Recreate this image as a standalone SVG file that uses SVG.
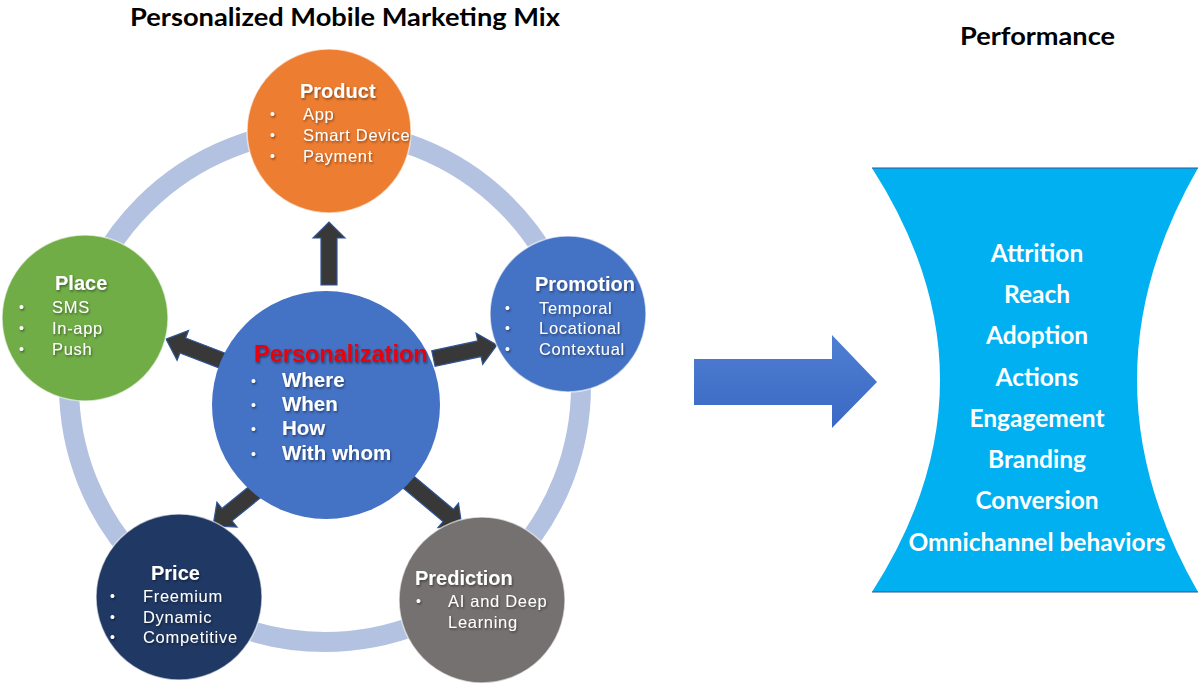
<svg xmlns="http://www.w3.org/2000/svg" width="1200" height="688" viewBox="0 0 1200 688">
<defs>
  <filter id="ts" x="-10%" y="-30%" width="130%" height="170%">
    <feDropShadow dx="1" dy="1.5" stdDeviation="1" flood-color="#000" flood-opacity="0.45"/>
  </filter>
  <linearGradient id="bigArrow" x1="0" y1="0" x2="0" y2="1">
    <stop offset="0" stop-color="#4f7fd2"/>
    <stop offset="1" stop-color="#3a68c4"/>
  </linearGradient>
</defs>
<style>
  .title{font-family:"Lato","Open Sans",sans-serif;font-weight:bold;font-size:25px;fill:#000}
  .perf{font-family:"Lato","Open Sans",sans-serif;font-weight:bold;font-size:24.5px;fill:#fff;text-anchor:middle}
  .nt{font-family:"Liberation Sans",Arial,sans-serif;font-weight:bold;font-size:20px;fill:#fff}
  .it{font-family:"Liberation Sans",Arial,sans-serif;font-size:16.5px;fill:#fff;letter-spacing:0.7px}
  .bl{font-family:"Liberation Sans",Arial,sans-serif;font-size:14px;fill:#fff}
  .ci{font-family:"Liberation Sans",Arial,sans-serif;font-weight:bold;font-size:20.5px;fill:#fff}
  .conn{fill:#383838;stroke:#2f5597;stroke-width:1.2;stroke-linejoin:miter}
  .node{stroke:#ffffff;stroke-width:1.5;stroke-opacity:0.6}
</style>

<text class="title" x="130" y="26" textLength="430" lengthAdjust="spacingAndGlyphs">Personalized Mobile Marketing Mix</text>
<text class="title" x="960" y="45" textLength="155" lengthAdjust="spacingAndGlyphs">Performance</text>

<!-- ring -->
<circle cx="325" cy="386" r="256" fill="none" stroke="#b4c2e2" stroke-width="20"/>

<g id="connectors">
  <polygon class="conn" points="321,285 321,238 313,238 329,222 345,238 337,238 337,285"/>
  <polygon class="conn" transform="translate(166,339) rotate(201)" points="0,0 -18,-16 -18,-8 -85,-8 -85,8 -18,8 -18,16"/>
  <polygon class="conn" transform="translate(497,345) rotate(-12)" points="0,0 -18,-16 -18,-8 -65,-8 -65,8 -18,8 -18,16"/>
  <polygon class="conn" transform="translate(213,526) rotate(141)" points="0,0 -18,-16 -18,-8 -68,-8 -68,8 -18,8 -18,16"/>
  <polygon class="conn" transform="translate(462,527) rotate(40)" points="0,0 -18,-16 -18,-8 -72,-8 -72,8 -18,8 -18,16"/>
  <polygon points="694,359 832,359 832,335 877,382 832,428 832,405 694,405" fill="url(#bigArrow)"/>
</g>

<g id="center">
  <circle cx="326" cy="405" r="114" fill="#4472c4"/>
  <text x="254" y="362" font-family="Liberation Sans,Arial,sans-serif" font-weight="bold" font-size="23.5" fill="#e8000b" filter="url(#ts)">Personalization</text>
  <g filter="url(#ts)">
    <text class="bl" x="251" y="386">•</text>
    <text class="ci" x="282" y="387">Where</text>
    <text class="bl" x="251" y="410">•</text>
    <text class="ci" x="282" y="411">When</text>
    <text class="bl" x="251" y="434">•</text>
    <text class="ci" x="282" y="435">How</text>
    <text class="bl" x="251" y="459">•</text>
    <text class="ci" x="282" y="460">With whom</text>
  </g>
</g>

<g id="product">
  <circle class="node" cx="329" cy="131" r="82" fill="#ed7d31"/>
  <g filter="url(#ts)">
    <text class="nt" x="300" y="98">Product</text>
    <text class="bl" x="270" y="119">•</text><text class="it" x="303" y="120">App</text>
    <text class="bl" x="270" y="140">•</text><text class="it" x="303" y="141">Smart Device</text>
    <text class="bl" x="270" y="161">•</text><text class="it" x="303" y="162">Payment</text>
  </g>
</g>

<g id="place">
  <circle class="node" cx="85" cy="318" r="83" fill="#70ad47"/>
  <g filter="url(#ts)">
    <text class="nt" x="55" y="290">Place</text>
    <text class="bl" x="19" y="312">•</text><text class="it" x="52" y="313">SMS</text>
    <text class="bl" x="19" y="333">•</text><text class="it" x="52" y="334">In-app</text>
    <text class="bl" x="19" y="354">•</text><text class="it" x="52" y="355">Push</text>
  </g>
</g>

<g id="promotion">
  <circle class="node" cx="568" cy="314" r="78" fill="#4472c4"/>
  <g filter="url(#ts)">
    <text class="nt" x="535" y="291">Promotion</text>
    <text class="bl" x="505" y="313">•</text><text class="it" x="539" y="314">Temporal</text>
    <text class="bl" x="505" y="333">•</text><text class="it" x="539" y="334">Locational</text>
    <text class="bl" x="505" y="354">•</text><text class="it" x="539" y="355">Contextual</text>
  </g>
</g>

<g id="price">
  <circle class="node" cx="179" cy="597" r="83" fill="#203864"/>
  <g filter="url(#ts)">
    <text class="nt" x="151" y="580">Price</text>
    <text class="bl" x="110" y="601">•</text><text class="it" x="143" y="602">Freemium</text>
    <text class="bl" x="110" y="622">•</text><text class="it" x="143" y="623">Dynamic</text>
    <text class="bl" x="110" y="642">•</text><text class="it" x="143" y="643">Competitive</text>
  </g>
</g>

<g id="prediction">
  <circle class="node" cx="482" cy="600" r="83" fill="#767171"/>
  <g filter="url(#ts)">
    <text class="nt" x="415" y="585">Prediction</text>
    <text class="bl" x="416" y="606">•</text><text class="it" x="448" y="607">AI and Deep</text>
    <text class="it" x="448" y="628">Learning</text>
  </g>
</g>

<g id="performance">
  <path d="M872,168 L1198,168 Q1076,380 1198,592 L872,592 Q1008,380 872,168 Z" fill="#00b0f0"/>
  <line x1="872" y1="168" x2="1198" y2="168" stroke="#2f5597" stroke-width="1.2"/>
  <line x1="872" y1="592" x2="1198" y2="592" stroke="#2f5597" stroke-width="1.2"/>
  <text class="perf" x="1037" y="262">Attrition</text>
  <text class="perf" x="1037" y="303">Reach</text>
  <text class="perf" x="1037" y="344">Adoption</text>
  <text class="perf" x="1037" y="386">Actions</text>
  <text class="perf" x="1037" y="427">Engagement</text>
  <text class="perf" x="1037" y="468">Branding</text>
  <text class="perf" x="1037" y="509">Conversion</text>
  <text class="perf" x="1037" y="551">Omnichannel behaviors</text>
</g>
</svg>
